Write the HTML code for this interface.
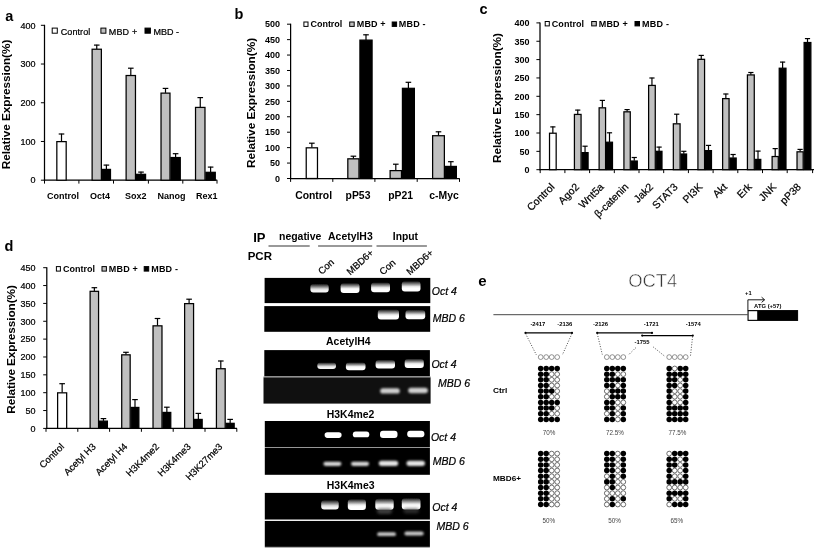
<!DOCTYPE html>
<html lang="en"><head><meta charset="utf-8"><title>Figure</title>
<style>
html,body{margin:0;padding:0;background:#fff;}
body{width:814px;height:548px;overflow:hidden;}
svg{display:block;font-family:"Liberation Sans", sans-serif;}
svg text{font-family:"Liberation Sans", sans-serif;}
</style></head><body>
<svg width="814" height="548" viewBox="0 0 814 548">
<defs>
<filter id="b1" x="-20%" y="-40%" width="140%" height="180%"><feGaussianBlur stdDeviation="0.8"/></filter>
<linearGradient id="gb" x1="0" y1="0" x2="0" y2="1"><stop offset="0" stop-color="#1a1a1a"/><stop offset="0.28" stop-color="#8a8a8a"/><stop offset="0.52" stop-color="#ececec"/><stop offset="0.68" stop-color="#fff"/><stop offset="1" stop-color="#fff"/></linearGradient>
<linearGradient id="gb2" x1="0" y1="0" x2="0" y2="1"><stop offset="0" stop-color="#151515"/><stop offset="0.3" stop-color="#777"/><stop offset="0.6" stop-color="#ddd"/><stop offset="0.8" stop-color="#f4f4f4"/><stop offset="1" stop-color="#f4f4f4"/></linearGradient>
<filter id="b0" x="-20%" y="-40%" width="140%" height="180%"><feGaussianBlur stdDeviation="0.6"/></filter>
<filter id="b2" x="-20%" y="-50%" width="140%" height="200%"><feGaussianBlur stdDeviation="1.4"/></filter>
</defs>
<rect width="814" height="548" fill="#fff"/>
<g id="pa">
<text x="5.20" y="21.00" font-size="14.5" font-weight="700" >a</text>
<line x1="44.50" y1="24.80" x2="44.50" y2="180.80" stroke="#000" stroke-width="1.25" />
<line x1="43.90" y1="180.20" x2="217.20" y2="180.20" stroke="#000" stroke-width="1.25" />
<line x1="40.90" y1="180.20" x2="44.50" y2="180.20" stroke="#000" stroke-width="1.0" />
<text x="35.60" y="183.45" font-size="9" text-anchor="end" stroke="#000" stroke-width="0.22" >0</text>
<line x1="40.90" y1="141.47" x2="44.50" y2="141.47" stroke="#000" stroke-width="1.0" />
<text x="35.60" y="144.72" font-size="9" text-anchor="end" stroke="#000" stroke-width="0.22" >100</text>
<line x1="40.90" y1="102.75" x2="44.50" y2="102.75" stroke="#000" stroke-width="1.0" />
<text x="35.60" y="106.00" font-size="9" text-anchor="end" stroke="#000" stroke-width="0.22" >200</text>
<line x1="40.90" y1="64.03" x2="44.50" y2="64.03" stroke="#000" stroke-width="1.0" />
<text x="35.60" y="67.28" font-size="9" text-anchor="end" stroke="#000" stroke-width="0.22" >300</text>
<line x1="40.90" y1="25.30" x2="44.50" y2="25.30" stroke="#000" stroke-width="1.0" />
<text x="35.60" y="28.55" font-size="9" text-anchor="end" stroke="#000" stroke-width="0.22" >400</text>
<line x1="44.50" y1="180.20" x2="44.50" y2="183.60" stroke="#000" stroke-width="1.0" />
<line x1="78.90" y1="180.20" x2="78.90" y2="183.60" stroke="#000" stroke-width="1.0" />
<line x1="113.50" y1="180.20" x2="113.50" y2="183.60" stroke="#000" stroke-width="1.0" />
<line x1="148.40" y1="180.20" x2="148.40" y2="183.60" stroke="#000" stroke-width="1.0" />
<line x1="182.80" y1="180.20" x2="182.80" y2="183.60" stroke="#000" stroke-width="1.0" />
<line x1="217.00" y1="180.20" x2="217.00" y2="183.60" stroke="#000" stroke-width="1.0" />
<text transform="translate(10.30 104.40) rotate(-90)" font-size="11.8" font-weight="700" text-anchor="middle" textLength="129.6" lengthAdjust="spacing" >Relative Expression(%)</text>
<rect x="52.20" y="28.10" width="5.10" height="5.10" fill="#fff" stroke="#000" stroke-width="1"/>
<text x="60.80" y="35.20" font-size="9" stroke="#000" stroke-width="0.22" textLength="29.4" lengthAdjust="spacing" >Control</text>
<rect x="100.90" y="28.10" width="5.00" height="5.10" fill="#c0c0c0" stroke="#000" stroke-width="1"/>
<text x="108.70" y="35.20" font-size="9" stroke="#000" stroke-width="0.22" textLength="28.6" lengthAdjust="spacing" >MBD +</text>
<rect x="145.00" y="28.10" width="5.40" height="5.10" fill="#000" stroke="#000" stroke-width="1"/>
<text x="153.40" y="35.20" font-size="9" stroke="#000" stroke-width="0.22" textLength="25.5" lengthAdjust="spacing" >MBD -</text>
<rect x="56.83" y="141.62" width="9.35" height="38.57" fill="#fff" stroke="#000" stroke-width="1.25"/>
<line x1="61.50" y1="141.40" x2="61.50" y2="133.70" stroke="#000" stroke-width="1.2" />
<line x1="58.70" y1="134.00" x2="64.30" y2="134.00" stroke="#000" stroke-width="1.2" />
<rect x="92.12" y="49.23" width="9.25" height="130.97" fill="#c0c0c0" stroke="#000" stroke-width="1.25"/>
<line x1="96.75" y1="49.00" x2="96.75" y2="44.80" stroke="#000" stroke-width="1.2" />
<line x1="93.95" y1="45.10" x2="99.55" y2="45.10" stroke="#000" stroke-width="1.2" />
<rect x="102.33" y="169.42" width="8.15" height="10.78" fill="#000" stroke="#000" stroke-width="1.25"/>
<line x1="106.40" y1="169.20" x2="106.40" y2="164.80" stroke="#000" stroke-width="1.2" />
<line x1="103.60" y1="165.10" x2="109.20" y2="165.10" stroke="#000" stroke-width="1.2" />
<rect x="126.12" y="75.52" width="9.35" height="104.67" fill="#c0c0c0" stroke="#000" stroke-width="1.25"/>
<line x1="130.80" y1="75.30" x2="130.80" y2="67.90" stroke="#000" stroke-width="1.2" />
<line x1="128.00" y1="68.20" x2="133.60" y2="68.20" stroke="#000" stroke-width="1.2" />
<rect x="136.42" y="174.32" width="9.15" height="5.87" fill="#000" stroke="#000" stroke-width="1.25"/>
<line x1="141.00" y1="174.10" x2="141.00" y2="171.80" stroke="#000" stroke-width="1.2" />
<line x1="138.20" y1="172.10" x2="143.80" y2="172.10" stroke="#000" stroke-width="1.2" />
<rect x="161.03" y="93.12" width="8.95" height="87.07" fill="#c0c0c0" stroke="#000" stroke-width="1.25"/>
<line x1="165.50" y1="92.90" x2="165.50" y2="88.10" stroke="#000" stroke-width="1.2" />
<line x1="162.70" y1="88.40" x2="168.30" y2="88.40" stroke="#000" stroke-width="1.2" />
<rect x="170.92" y="157.53" width="9.35" height="22.67" fill="#000" stroke="#000" stroke-width="1.25"/>
<line x1="175.60" y1="157.30" x2="175.60" y2="153.40" stroke="#000" stroke-width="1.2" />
<line x1="172.80" y1="153.70" x2="178.40" y2="153.70" stroke="#000" stroke-width="1.2" />
<rect x="195.53" y="107.42" width="9.45" height="72.77" fill="#c0c0c0" stroke="#000" stroke-width="1.25"/>
<line x1="200.25" y1="107.20" x2="200.25" y2="97.30" stroke="#000" stroke-width="1.2" />
<line x1="197.45" y1="97.60" x2="203.05" y2="97.60" stroke="#000" stroke-width="1.2" />
<rect x="205.92" y="172.32" width="9.35" height="7.87" fill="#000" stroke="#000" stroke-width="1.25"/>
<line x1="210.60" y1="172.10" x2="210.60" y2="166.80" stroke="#000" stroke-width="1.2" />
<line x1="207.80" y1="167.10" x2="213.40" y2="167.10" stroke="#000" stroke-width="1.2" />
<text x="63.00" y="198.60" font-size="9" font-weight="700" text-anchor="middle" >Control</text>
<text x="100.10" y="198.60" font-size="9" font-weight="700" text-anchor="middle" >Oct4</text>
<text x="135.70" y="198.60" font-size="9" font-weight="700" text-anchor="middle" >Sox2</text>
<text x="171.50" y="198.60" font-size="9" font-weight="700" text-anchor="middle" >Nanog</text>
<text x="206.80" y="198.60" font-size="9" font-weight="700" text-anchor="middle" >Rex1</text>
</g>
<g id="pb">
<text x="234.50" y="19.30" font-size="14.5" font-weight="700" >b</text>
<line x1="290.60" y1="23.70" x2="290.60" y2="179.10" stroke="#000" stroke-width="1.25" />
<line x1="290.00" y1="178.50" x2="459.70" y2="178.50" stroke="#000" stroke-width="1.25" />
<line x1="287.00" y1="178.50" x2="290.60" y2="178.50" stroke="#000" stroke-width="1.0" />
<text x="280.00" y="181.75" font-size="9" font-weight="700" text-anchor="end" >0</text>
<line x1="287.00" y1="163.07" x2="290.60" y2="163.07" stroke="#000" stroke-width="1.0" />
<text x="280.00" y="166.32" font-size="9" font-weight="700" text-anchor="end" >50</text>
<line x1="287.00" y1="147.64" x2="290.60" y2="147.64" stroke="#000" stroke-width="1.0" />
<text x="280.00" y="150.89" font-size="9" font-weight="700" text-anchor="end" >100</text>
<line x1="287.00" y1="132.21" x2="290.60" y2="132.21" stroke="#000" stroke-width="1.0" />
<text x="280.00" y="135.46" font-size="9" font-weight="700" text-anchor="end" >150</text>
<line x1="287.00" y1="116.78" x2="290.60" y2="116.78" stroke="#000" stroke-width="1.0" />
<text x="280.00" y="120.03" font-size="9" font-weight="700" text-anchor="end" >200</text>
<line x1="287.00" y1="101.35" x2="290.60" y2="101.35" stroke="#000" stroke-width="1.0" />
<text x="280.00" y="104.60" font-size="9" font-weight="700" text-anchor="end" >250</text>
<line x1="287.00" y1="85.92" x2="290.60" y2="85.92" stroke="#000" stroke-width="1.0" />
<text x="280.00" y="89.17" font-size="9" font-weight="700" text-anchor="end" >300</text>
<line x1="287.00" y1="70.49" x2="290.60" y2="70.49" stroke="#000" stroke-width="1.0" />
<text x="280.00" y="73.74" font-size="9" font-weight="700" text-anchor="end" >350</text>
<line x1="287.00" y1="55.06" x2="290.60" y2="55.06" stroke="#000" stroke-width="1.0" />
<text x="280.00" y="58.31" font-size="9" font-weight="700" text-anchor="end" >400</text>
<line x1="287.00" y1="39.63" x2="290.60" y2="39.63" stroke="#000" stroke-width="1.0" />
<text x="280.00" y="42.88" font-size="9" font-weight="700" text-anchor="end" >450</text>
<line x1="287.00" y1="24.20" x2="290.60" y2="24.20" stroke="#000" stroke-width="1.0" />
<text x="280.00" y="27.45" font-size="9" font-weight="700" text-anchor="end" >500</text>
<line x1="290.60" y1="178.50" x2="290.60" y2="181.90" stroke="#000" stroke-width="1.0" />
<line x1="332.80" y1="178.50" x2="332.80" y2="181.90" stroke="#000" stroke-width="1.0" />
<line x1="374.90" y1="178.50" x2="374.90" y2="181.90" stroke="#000" stroke-width="1.0" />
<line x1="417.20" y1="178.50" x2="417.20" y2="181.90" stroke="#000" stroke-width="1.0" />
<line x1="459.50" y1="178.50" x2="459.50" y2="181.90" stroke="#000" stroke-width="1.0" />
<text transform="translate(255.10 102.90) rotate(-90)" font-size="11.8" font-weight="700" text-anchor="middle" textLength="130" lengthAdjust="spacing" >Relative Expression(%)</text>
<rect x="303.90" y="22.00" width="4.10" height="4.40" fill="#fff" stroke="#000" stroke-width="1"/>
<text x="310.60" y="27.20" font-size="9" font-weight="700" textLength="31.6" lengthAdjust="spacing" >Control</text>
<rect x="349.70" y="22.00" width="4.50" height="4.40" fill="#c0c0c0" stroke="#000" stroke-width="1"/>
<text x="356.80" y="27.20" font-size="9" font-weight="700" textLength="28.6" lengthAdjust="spacing" >MBD +</text>
<rect x="392.20" y="22.00" width="4.40" height="4.40" fill="#000" stroke="#000" stroke-width="1"/>
<text x="398.80" y="27.20" font-size="9" font-weight="700" textLength="26.8" lengthAdjust="spacing" >MBD -</text>
<rect x="306.23" y="147.82" width="11.25" height="30.68" fill="#fff" stroke="#000" stroke-width="1.25"/>
<line x1="311.85" y1="147.60" x2="311.85" y2="142.90" stroke="#000" stroke-width="1.2" />
<line x1="309.05" y1="143.20" x2="314.65" y2="143.20" stroke="#000" stroke-width="1.2" />
<rect x="347.82" y="158.82" width="11.15" height="19.68" fill="#c0c0c0" stroke="#000" stroke-width="1.25"/>
<line x1="353.40" y1="158.60" x2="353.40" y2="155.90" stroke="#000" stroke-width="1.2" />
<line x1="350.60" y1="156.20" x2="356.20" y2="156.20" stroke="#000" stroke-width="1.2" />
<rect x="359.93" y="40.12" width="12.15" height="138.38" fill="#000" stroke="#000" stroke-width="1.25"/>
<line x1="366.00" y1="39.90" x2="366.00" y2="34.50" stroke="#000" stroke-width="1.2" />
<line x1="363.20" y1="34.80" x2="368.80" y2="34.80" stroke="#000" stroke-width="1.2" />
<rect x="390.12" y="170.62" width="11.35" height="7.87" fill="#c0c0c0" stroke="#000" stroke-width="1.25"/>
<line x1="395.80" y1="170.40" x2="395.80" y2="163.90" stroke="#000" stroke-width="1.2" />
<line x1="393.00" y1="164.20" x2="398.60" y2="164.20" stroke="#000" stroke-width="1.2" />
<rect x="402.43" y="88.32" width="11.95" height="90.18" fill="#000" stroke="#000" stroke-width="1.25"/>
<line x1="408.40" y1="88.10" x2="408.40" y2="82.00" stroke="#000" stroke-width="1.2" />
<line x1="405.60" y1="82.30" x2="411.20" y2="82.30" stroke="#000" stroke-width="1.2" />
<rect x="432.62" y="135.72" width="11.75" height="42.77" fill="#c0c0c0" stroke="#000" stroke-width="1.25"/>
<line x1="438.50" y1="135.50" x2="438.50" y2="131.50" stroke="#000" stroke-width="1.2" />
<line x1="435.70" y1="131.80" x2="441.30" y2="131.80" stroke="#000" stroke-width="1.2" />
<rect x="445.32" y="166.42" width="11.05" height="12.08" fill="#000" stroke="#000" stroke-width="1.25"/>
<line x1="450.85" y1="166.20" x2="450.85" y2="161.40" stroke="#000" stroke-width="1.2" />
<line x1="448.05" y1="161.70" x2="453.65" y2="161.70" stroke="#000" stroke-width="1.2" />
<text x="313.60" y="198.60" font-size="10.4" font-weight="700" text-anchor="middle" >Control</text>
<text x="358.00" y="198.60" font-size="10.4" font-weight="700" text-anchor="middle" >pP53</text>
<text x="400.60" y="198.60" font-size="10.4" font-weight="700" text-anchor="middle" >pP21</text>
<text x="444.00" y="198.60" font-size="10.4" font-weight="700" text-anchor="middle" >c-Myc</text>
</g>
<g id="pc">
<text x="479.50" y="14.30" font-size="14.5" font-weight="700" >c</text>
<line x1="540.00" y1="22.40" x2="540.00" y2="170.30" stroke="#000" stroke-width="1.25" />
<line x1="539.40" y1="169.70" x2="814.00" y2="169.70" stroke="#000" stroke-width="1.25" />
<line x1="536.40" y1="169.70" x2="540.00" y2="169.70" stroke="#000" stroke-width="1.0" />
<text x="529.60" y="172.95" font-size="9" font-weight="700" text-anchor="end" >0</text>
<line x1="536.40" y1="151.35" x2="540.00" y2="151.35" stroke="#000" stroke-width="1.0" />
<text x="529.60" y="154.60" font-size="9" font-weight="700" text-anchor="end" >50</text>
<line x1="536.40" y1="133.00" x2="540.00" y2="133.00" stroke="#000" stroke-width="1.0" />
<text x="529.60" y="136.25" font-size="9" font-weight="700" text-anchor="end" >100</text>
<line x1="536.40" y1="114.65" x2="540.00" y2="114.65" stroke="#000" stroke-width="1.0" />
<text x="529.60" y="117.90" font-size="9" font-weight="700" text-anchor="end" >150</text>
<line x1="536.40" y1="96.30" x2="540.00" y2="96.30" stroke="#000" stroke-width="1.0" />
<text x="529.60" y="99.55" font-size="9" font-weight="700" text-anchor="end" >200</text>
<line x1="536.40" y1="77.95" x2="540.00" y2="77.95" stroke="#000" stroke-width="1.0" />
<text x="529.60" y="81.20" font-size="9" font-weight="700" text-anchor="end" >250</text>
<line x1="536.40" y1="59.60" x2="540.00" y2="59.60" stroke="#000" stroke-width="1.0" />
<text x="529.60" y="62.85" font-size="9" font-weight="700" text-anchor="end" >300</text>
<line x1="536.40" y1="41.25" x2="540.00" y2="41.25" stroke="#000" stroke-width="1.0" />
<text x="529.60" y="44.50" font-size="9" font-weight="700" text-anchor="end" >350</text>
<line x1="536.40" y1="22.90" x2="540.00" y2="22.90" stroke="#000" stroke-width="1.0" />
<text x="529.60" y="26.15" font-size="9" font-weight="700" text-anchor="end" >400</text>
<line x1="540.20" y1="169.70" x2="540.20" y2="173.10" stroke="#000" stroke-width="1.0" />
<line x1="564.90" y1="169.70" x2="564.90" y2="173.10" stroke="#000" stroke-width="1.0" />
<line x1="589.60" y1="169.70" x2="589.60" y2="173.10" stroke="#000" stroke-width="1.0" />
<line x1="614.30" y1="169.70" x2="614.30" y2="173.10" stroke="#000" stroke-width="1.0" />
<line x1="639.00" y1="169.70" x2="639.00" y2="173.10" stroke="#000" stroke-width="1.0" />
<line x1="663.70" y1="169.70" x2="663.70" y2="173.10" stroke="#000" stroke-width="1.0" />
<line x1="688.40" y1="169.70" x2="688.40" y2="173.10" stroke="#000" stroke-width="1.0" />
<line x1="713.10" y1="169.70" x2="713.10" y2="173.10" stroke="#000" stroke-width="1.0" />
<line x1="737.80" y1="169.70" x2="737.80" y2="173.10" stroke="#000" stroke-width="1.0" />
<line x1="762.50" y1="169.70" x2="762.50" y2="173.10" stroke="#000" stroke-width="1.0" />
<line x1="787.20" y1="169.70" x2="787.20" y2="173.10" stroke="#000" stroke-width="1.0" />
<line x1="812.60" y1="169.70" x2="812.60" y2="173.10" stroke="#000" stroke-width="1.0" />
<text transform="translate(501.00 98.00) rotate(-90)" font-size="11.8" font-weight="700" text-anchor="middle" textLength="130.1" lengthAdjust="spacing" >Relative Expression(%)</text>
<rect x="545.20" y="21.50" width="4.10" height="4.40" fill="#fff" stroke="#000" stroke-width="1"/>
<text x="551.80" y="26.80" font-size="9" font-weight="700" textLength="32.3" lengthAdjust="spacing" >Control</text>
<rect x="591.70" y="21.50" width="4.60" height="4.40" fill="#c0c0c0" stroke="#000" stroke-width="1"/>
<text x="598.70" y="26.80" font-size="9" font-weight="700" textLength="29" lengthAdjust="spacing" >MBD +</text>
<rect x="635.00" y="21.50" width="4.50" height="4.40" fill="#000" stroke="#000" stroke-width="1"/>
<text x="642.00" y="26.80" font-size="9" font-weight="700" textLength="26.9" lengthAdjust="spacing" >MBD -</text>
<rect x="549.52" y="133.22" width="6.65" height="36.47" fill="#fff" stroke="#000" stroke-width="1.25"/>
<line x1="552.85" y1="133.00" x2="552.85" y2="126.60" stroke="#000" stroke-width="1.2" />
<line x1="550.25" y1="126.90" x2="555.45" y2="126.90" stroke="#000" stroke-width="1.2" />
<rect x="574.42" y="114.42" width="6.65" height="55.27" fill="#c0c0c0" stroke="#000" stroke-width="1.25"/>
<line x1="577.75" y1="114.20" x2="577.75" y2="109.80" stroke="#000" stroke-width="1.2" />
<line x1="575.15" y1="110.10" x2="580.35" y2="110.10" stroke="#000" stroke-width="1.2" />
<rect x="582.03" y="152.62" width="6.05" height="17.07" fill="#000" stroke="#000" stroke-width="1.25"/>
<line x1="585.05" y1="152.40" x2="585.05" y2="145.90" stroke="#000" stroke-width="1.2" />
<line x1="582.45" y1="146.20" x2="587.65" y2="146.20" stroke="#000" stroke-width="1.2" />
<rect x="599.12" y="107.82" width="6.45" height="61.87" fill="#c0c0c0" stroke="#000" stroke-width="1.25"/>
<line x1="602.35" y1="107.60" x2="602.35" y2="100.10" stroke="#000" stroke-width="1.2" />
<line x1="599.75" y1="100.40" x2="604.95" y2="100.40" stroke="#000" stroke-width="1.2" />
<rect x="606.53" y="142.22" width="5.95" height="27.47" fill="#000" stroke="#000" stroke-width="1.25"/>
<line x1="609.50" y1="142.00" x2="609.50" y2="132.50" stroke="#000" stroke-width="1.2" />
<line x1="606.90" y1="132.80" x2="612.10" y2="132.80" stroke="#000" stroke-width="1.2" />
<rect x="623.92" y="111.82" width="6.35" height="57.87" fill="#c0c0c0" stroke="#000" stroke-width="1.25"/>
<line x1="627.10" y1="111.60" x2="627.10" y2="109.30" stroke="#000" stroke-width="1.2" />
<line x1="624.50" y1="109.60" x2="629.70" y2="109.60" stroke="#000" stroke-width="1.2" />
<rect x="631.23" y="161.03" width="6.05" height="8.67" fill="#000" stroke="#000" stroke-width="1.25"/>
<line x1="634.25" y1="160.80" x2="634.25" y2="157.20" stroke="#000" stroke-width="1.2" />
<line x1="631.65" y1="157.50" x2="636.85" y2="157.50" stroke="#000" stroke-width="1.2" />
<rect x="648.62" y="85.42" width="6.65" height="84.27" fill="#c0c0c0" stroke="#000" stroke-width="1.25"/>
<line x1="651.95" y1="85.20" x2="651.95" y2="77.70" stroke="#000" stroke-width="1.2" />
<line x1="649.35" y1="78.00" x2="654.55" y2="78.00" stroke="#000" stroke-width="1.2" />
<rect x="656.23" y="151.32" width="5.75" height="18.37" fill="#000" stroke="#000" stroke-width="1.25"/>
<line x1="659.10" y1="151.10" x2="659.10" y2="146.80" stroke="#000" stroke-width="1.2" />
<line x1="656.50" y1="147.10" x2="661.70" y2="147.10" stroke="#000" stroke-width="1.2" />
<rect x="673.33" y="123.82" width="6.75" height="45.87" fill="#c0c0c0" stroke="#000" stroke-width="1.25"/>
<line x1="676.70" y1="123.60" x2="676.70" y2="113.90" stroke="#000" stroke-width="1.2" />
<line x1="674.10" y1="114.20" x2="679.30" y2="114.20" stroke="#000" stroke-width="1.2" />
<rect x="681.03" y="154.03" width="5.55" height="15.67" fill="#000" stroke="#000" stroke-width="1.25"/>
<line x1="683.80" y1="153.80" x2="683.80" y2="151.00" stroke="#000" stroke-width="1.2" />
<line x1="681.20" y1="151.30" x2="686.40" y2="151.30" stroke="#000" stroke-width="1.2" />
<rect x="697.92" y="59.33" width="6.65" height="110.38" fill="#c0c0c0" stroke="#000" stroke-width="1.25"/>
<line x1="701.25" y1="59.10" x2="701.25" y2="55.10" stroke="#000" stroke-width="1.2" />
<line x1="698.65" y1="55.40" x2="703.85" y2="55.40" stroke="#000" stroke-width="1.2" />
<rect x="705.53" y="150.62" width="5.95" height="19.07" fill="#000" stroke="#000" stroke-width="1.25"/>
<line x1="708.50" y1="150.40" x2="708.50" y2="145.10" stroke="#000" stroke-width="1.2" />
<line x1="705.90" y1="145.40" x2="711.10" y2="145.40" stroke="#000" stroke-width="1.2" />
<rect x="722.62" y="98.62" width="6.45" height="71.07" fill="#c0c0c0" stroke="#000" stroke-width="1.25"/>
<line x1="725.85" y1="98.40" x2="725.85" y2="93.70" stroke="#000" stroke-width="1.2" />
<line x1="723.25" y1="94.00" x2="728.45" y2="94.00" stroke="#000" stroke-width="1.2" />
<rect x="730.03" y="158.03" width="6.15" height="11.67" fill="#000" stroke="#000" stroke-width="1.25"/>
<line x1="733.10" y1="157.80" x2="733.10" y2="154.20" stroke="#000" stroke-width="1.2" />
<line x1="730.50" y1="154.50" x2="735.70" y2="154.50" stroke="#000" stroke-width="1.2" />
<rect x="747.42" y="74.92" width="6.85" height="94.77" fill="#c0c0c0" stroke="#000" stroke-width="1.25"/>
<line x1="750.85" y1="74.70" x2="750.85" y2="72.20" stroke="#000" stroke-width="1.2" />
<line x1="748.25" y1="72.50" x2="753.45" y2="72.50" stroke="#000" stroke-width="1.2" />
<rect x="755.23" y="159.42" width="5.55" height="10.28" fill="#000" stroke="#000" stroke-width="1.25"/>
<line x1="758.00" y1="159.20" x2="758.00" y2="150.80" stroke="#000" stroke-width="1.2" />
<line x1="755.40" y1="151.10" x2="760.60" y2="151.10" stroke="#000" stroke-width="1.2" />
<rect x="772.12" y="156.53" width="6.15" height="13.17" fill="#c0c0c0" stroke="#000" stroke-width="1.25"/>
<line x1="775.20" y1="156.30" x2="775.20" y2="148.30" stroke="#000" stroke-width="1.2" />
<line x1="772.60" y1="148.60" x2="777.80" y2="148.60" stroke="#000" stroke-width="1.2" />
<rect x="779.23" y="68.22" width="6.75" height="101.47" fill="#000" stroke="#000" stroke-width="1.25"/>
<line x1="782.60" y1="68.00" x2="782.60" y2="61.80" stroke="#000" stroke-width="1.2" />
<line x1="780.00" y1="62.10" x2="785.20" y2="62.10" stroke="#000" stroke-width="1.2" />
<rect x="797.02" y="151.82" width="6.15" height="17.87" fill="#c0c0c0" stroke="#000" stroke-width="1.25"/>
<line x1="800.10" y1="151.60" x2="800.10" y2="149.10" stroke="#000" stroke-width="1.2" />
<line x1="797.50" y1="149.40" x2="802.70" y2="149.40" stroke="#000" stroke-width="1.2" />
<rect x="804.12" y="42.52" width="6.75" height="127.17" fill="#000" stroke="#000" stroke-width="1.25"/>
<line x1="807.50" y1="42.30" x2="807.50" y2="38.30" stroke="#000" stroke-width="1.2" />
<line x1="804.90" y1="38.60" x2="810.10" y2="38.60" stroke="#000" stroke-width="1.2" />
<text transform="translate(555.20 187.60) rotate(-45)" font-size="10.5" text-anchor="end" stroke="#000" stroke-width="0.22" >Control</text>
<text transform="translate(579.85 187.60) rotate(-45)" font-size="10.5" text-anchor="end" stroke="#000" stroke-width="0.22" >Ago2</text>
<text transform="translate(604.50 187.60) rotate(-45)" font-size="10.5" text-anchor="end" stroke="#000" stroke-width="0.22" >Wnt5a</text>
<text transform="translate(629.15 187.60) rotate(-45)" font-size="10.5" text-anchor="end" stroke="#000" stroke-width="0.22" >β-catenin</text>
<text transform="translate(653.80 187.60) rotate(-45)" font-size="10.5" text-anchor="end" stroke="#000" stroke-width="0.22" >Jak2</text>
<text transform="translate(678.45 187.60) rotate(-45)" font-size="10.5" text-anchor="end" stroke="#000" stroke-width="0.22" >STAT3</text>
<text transform="translate(703.10 187.60) rotate(-45)" font-size="10.5" text-anchor="end" stroke="#000" stroke-width="0.22" >PI3K</text>
<text transform="translate(727.75 187.60) rotate(-45)" font-size="10.5" text-anchor="end" stroke="#000" stroke-width="0.22" >Akt</text>
<text transform="translate(752.40 187.60) rotate(-45)" font-size="10.5" text-anchor="end" stroke="#000" stroke-width="0.22" >Erk</text>
<text transform="translate(777.05 187.60) rotate(-45)" font-size="10.5" text-anchor="end" stroke="#000" stroke-width="0.22" >JNK</text>
<text transform="translate(801.70 187.60) rotate(-45)" font-size="10.5" text-anchor="end" stroke="#000" stroke-width="0.22" >pP38</text>
</g>
<g id="pd">
<text x="4.50" y="250.80" font-size="14.5" font-weight="700" >d</text>
<line x1="46.80" y1="267.20" x2="46.80" y2="429.00" stroke="#000" stroke-width="1.25" />
<line x1="46.20" y1="428.40" x2="237.00" y2="428.40" stroke="#000" stroke-width="1.25" />
<line x1="43.20" y1="428.40" x2="46.80" y2="428.40" stroke="#000" stroke-width="1.0" />
<text x="35.60" y="431.65" font-size="9" text-anchor="end" stroke="#000" stroke-width="0.22" >0</text>
<line x1="43.20" y1="410.54" x2="46.80" y2="410.54" stroke="#000" stroke-width="1.0" />
<text x="35.60" y="413.79" font-size="9" text-anchor="end" stroke="#000" stroke-width="0.22" >50</text>
<line x1="43.20" y1="392.69" x2="46.80" y2="392.69" stroke="#000" stroke-width="1.0" />
<text x="35.60" y="395.94" font-size="9" text-anchor="end" stroke="#000" stroke-width="0.22" >100</text>
<line x1="43.20" y1="374.83" x2="46.80" y2="374.83" stroke="#000" stroke-width="1.0" />
<text x="35.60" y="378.08" font-size="9" text-anchor="end" stroke="#000" stroke-width="0.22" >150</text>
<line x1="43.20" y1="356.98" x2="46.80" y2="356.98" stroke="#000" stroke-width="1.0" />
<text x="35.60" y="360.23" font-size="9" text-anchor="end" stroke="#000" stroke-width="0.22" >200</text>
<line x1="43.20" y1="339.12" x2="46.80" y2="339.12" stroke="#000" stroke-width="1.0" />
<text x="35.60" y="342.37" font-size="9" text-anchor="end" stroke="#000" stroke-width="0.22" >250</text>
<line x1="43.20" y1="321.27" x2="46.80" y2="321.27" stroke="#000" stroke-width="1.0" />
<text x="35.60" y="324.52" font-size="9" text-anchor="end" stroke="#000" stroke-width="0.22" >300</text>
<line x1="43.20" y1="303.41" x2="46.80" y2="303.41" stroke="#000" stroke-width="1.0" />
<text x="35.60" y="306.66" font-size="9" text-anchor="end" stroke="#000" stroke-width="0.22" >350</text>
<line x1="43.20" y1="285.56" x2="46.80" y2="285.56" stroke="#000" stroke-width="1.0" />
<text x="35.60" y="288.81" font-size="9" text-anchor="end" stroke="#000" stroke-width="0.22" >400</text>
<line x1="43.20" y1="267.70" x2="46.80" y2="267.70" stroke="#000" stroke-width="1.0" />
<text x="35.60" y="270.95" font-size="9" text-anchor="end" stroke="#000" stroke-width="0.22" >450</text>
<line x1="46.00" y1="428.40" x2="46.00" y2="431.80" stroke="#000" stroke-width="1.0" />
<line x1="77.80" y1="428.40" x2="77.80" y2="431.80" stroke="#000" stroke-width="1.0" />
<line x1="109.60" y1="428.40" x2="109.60" y2="431.80" stroke="#000" stroke-width="1.0" />
<line x1="141.40" y1="428.40" x2="141.40" y2="431.80" stroke="#000" stroke-width="1.0" />
<line x1="173.20" y1="428.40" x2="173.20" y2="431.80" stroke="#000" stroke-width="1.0" />
<line x1="205.00" y1="428.40" x2="205.00" y2="431.80" stroke="#000" stroke-width="1.0" />
<line x1="236.80" y1="428.40" x2="236.80" y2="431.80" stroke="#000" stroke-width="1.0" />
<text transform="translate(15.10 349.40) rotate(-90)" font-size="11.8" font-weight="700" text-anchor="middle" textLength="128.5" lengthAdjust="spacing" >Relative Expression(%)</text>
<rect x="56.40" y="266.60" width="4.00" height="4.50" fill="#fff" stroke="#000" stroke-width="1"/>
<text x="63.00" y="271.90" font-size="9" font-weight="700" textLength="31.9" lengthAdjust="spacing" >Control</text>
<rect x="102.00" y="266.60" width="4.40" height="4.50" fill="#c0c0c0" stroke="#000" stroke-width="1"/>
<text x="108.80" y="271.90" font-size="9" font-weight="700" textLength="29" lengthAdjust="spacing" >MBD +</text>
<rect x="144.20" y="266.60" width="4.50" height="4.50" fill="#000" stroke="#000" stroke-width="1"/>
<text x="151.20" y="271.90" font-size="9" font-weight="700" textLength="26.8" lengthAdjust="spacing" >MBD -</text>
<rect x="57.62" y="392.83" width="9.05" height="35.57" fill="#fff" stroke="#000" stroke-width="1.25"/>
<line x1="62.15" y1="392.60" x2="62.15" y2="383.40" stroke="#000" stroke-width="1.2" />
<line x1="59.35" y1="383.70" x2="64.95" y2="383.70" stroke="#000" stroke-width="1.2" />
<rect x="90.12" y="291.33" width="8.45" height="137.07" fill="#c0c0c0" stroke="#000" stroke-width="1.25"/>
<line x1="94.35" y1="291.10" x2="94.35" y2="287.40" stroke="#000" stroke-width="1.2" />
<line x1="91.55" y1="287.70" x2="97.15" y2="287.70" stroke="#000" stroke-width="1.2" />
<rect x="99.53" y="421.12" width="7.85" height="7.28" fill="#000" stroke="#000" stroke-width="1.25"/>
<line x1="103.45" y1="420.90" x2="103.45" y2="418.30" stroke="#000" stroke-width="1.2" />
<line x1="100.65" y1="418.60" x2="106.25" y2="418.60" stroke="#000" stroke-width="1.2" />
<rect x="121.72" y="354.83" width="8.45" height="73.57" fill="#c0c0c0" stroke="#000" stroke-width="1.25"/>
<line x1="125.95" y1="354.60" x2="125.95" y2="352.00" stroke="#000" stroke-width="1.2" />
<line x1="123.15" y1="352.30" x2="128.75" y2="352.30" stroke="#000" stroke-width="1.2" />
<rect x="131.12" y="407.43" width="7.75" height="20.97" fill="#000" stroke="#000" stroke-width="1.25"/>
<line x1="135.00" y1="407.20" x2="135.00" y2="399.30" stroke="#000" stroke-width="1.2" />
<line x1="132.20" y1="399.60" x2="137.80" y2="399.60" stroke="#000" stroke-width="1.2" />
<rect x="153.03" y="325.83" width="8.95" height="102.57" fill="#c0c0c0" stroke="#000" stroke-width="1.25"/>
<line x1="157.50" y1="325.60" x2="157.50" y2="318.20" stroke="#000" stroke-width="1.2" />
<line x1="154.70" y1="318.50" x2="160.30" y2="318.50" stroke="#000" stroke-width="1.2" />
<rect x="162.92" y="412.43" width="7.85" height="15.97" fill="#000" stroke="#000" stroke-width="1.25"/>
<line x1="166.85" y1="412.20" x2="166.85" y2="406.90" stroke="#000" stroke-width="1.2" />
<line x1="164.05" y1="407.20" x2="169.65" y2="407.20" stroke="#000" stroke-width="1.2" />
<rect x="184.62" y="303.62" width="8.95" height="124.78" fill="#c0c0c0" stroke="#000" stroke-width="1.25"/>
<line x1="189.10" y1="303.40" x2="189.10" y2="298.90" stroke="#000" stroke-width="1.2" />
<line x1="186.30" y1="299.20" x2="191.90" y2="299.20" stroke="#000" stroke-width="1.2" />
<rect x="194.52" y="419.43" width="7.65" height="8.97" fill="#000" stroke="#000" stroke-width="1.25"/>
<line x1="198.35" y1="419.20" x2="198.35" y2="413.10" stroke="#000" stroke-width="1.2" />
<line x1="195.55" y1="413.40" x2="201.15" y2="413.40" stroke="#000" stroke-width="1.2" />
<rect x="216.43" y="368.73" width="8.75" height="59.67" fill="#c0c0c0" stroke="#000" stroke-width="1.25"/>
<line x1="220.80" y1="368.50" x2="220.80" y2="360.70" stroke="#000" stroke-width="1.2" />
<line x1="218.00" y1="361.00" x2="223.60" y2="361.00" stroke="#000" stroke-width="1.2" />
<rect x="226.12" y="423.33" width="8.05" height="5.07" fill="#000" stroke="#000" stroke-width="1.25"/>
<line x1="230.15" y1="423.10" x2="230.15" y2="419.10" stroke="#000" stroke-width="1.2" />
<line x1="227.35" y1="419.40" x2="232.95" y2="419.40" stroke="#000" stroke-width="1.2" />
<text transform="translate(64.80 447.20) rotate(-45)" font-size="9.5" text-anchor="end" stroke="#000" stroke-width="0.22" >Control</text>
<text transform="translate(96.45 447.20) rotate(-45)" font-size="9.5" text-anchor="end" stroke="#000" stroke-width="0.22" >Acetyl H3</text>
<text transform="translate(128.10 447.20) rotate(-45)" font-size="9.5" text-anchor="end" stroke="#000" stroke-width="0.22" >Acetyl H4</text>
<text transform="translate(159.75 447.20) rotate(-45)" font-size="9.5" text-anchor="end" stroke="#000" stroke-width="0.22" >H3K4me2</text>
<text transform="translate(191.40 447.20) rotate(-45)" font-size="9.5" text-anchor="end" stroke="#000" stroke-width="0.22" >H3K4me3</text>
<text transform="translate(223.05 447.20) rotate(-45)" font-size="9.5" text-anchor="end" stroke="#000" stroke-width="0.22" >H3K27me3</text>
</g>
<g id="pg">
<text x="253.20" y="241.80" font-size="13" font-weight="700" >IP</text>
<text x="247.70" y="260.30" font-size="11.5" font-weight="700" >PCR</text>
<text x="279.00" y="239.80" font-size="10.5" font-weight="700" textLength="42.4" lengthAdjust="spacingAndGlyphs" >negative</text>
<text x="328.10" y="239.80" font-size="10.5" font-weight="700" textLength="44.6" lengthAdjust="spacingAndGlyphs" >AcetylH3</text>
<text x="392.80" y="239.50" font-size="10.5" font-weight="700" textLength="25.2" lengthAdjust="spacingAndGlyphs" >Input</text>
<line x1="268.50" y1="246.00" x2="309.70" y2="246.00" stroke="#777" stroke-width="1.5" />
<line x1="318.10" y1="246.00" x2="372.20" y2="246.00" stroke="#777" stroke-width="1.5" />
<line x1="376.50" y1="246.00" x2="426.90" y2="246.00" stroke="#777" stroke-width="1.5" />
<text transform="translate(334.80 263.20) rotate(-42)" font-size="9.6" text-anchor="end" stroke="#000" stroke-width="0.22" >Con</text>
<text transform="translate(374.20 253.80) rotate(-42)" font-size="9.6" text-anchor="end" stroke="#000" stroke-width="0.22" >MBD6+</text>
<text transform="translate(396.20 263.60) rotate(-42)" font-size="9.6" text-anchor="end" stroke="#000" stroke-width="0.22" >Con</text>
<text transform="translate(434.00 253.80) rotate(-42)" font-size="9.6" text-anchor="end" stroke="#000" stroke-width="0.22" >MBD6+</text>
<rect x="264.60" y="277.90" width="165.70" height="25.20" fill="#000"/>
<rect x="310.40" y="284.00" width="18.30" height="8.40" rx="3.00" fill="url(#gb2)" filter="url(#b0)" opacity="1"/>
<rect x="340.60" y="283.20" width="18.90" height="9.80" rx="3.00" fill="url(#gb)" filter="url(#b0)" opacity="1"/>
<rect x="371.10" y="282.60" width="18.90" height="9.70" rx="3.00" fill="url(#gb)" filter="url(#b0)" opacity="1"/>
<rect x="401.80" y="281.30" width="18.70" height="10.30" rx="3.00" fill="url(#gb)" filter="url(#b0)" opacity="1"/>
<text x="431.80" y="295.20" font-size="10.5" font-style="italic" stroke="#000" stroke-width="0.22" >Oct 4</text>
<rect x="264.30" y="306.10" width="165.90" height="25.70" fill="#000"/>
<rect x="377.80" y="309.60" width="21.20" height="10.00" rx="3.00" fill="url(#gb)" filter="url(#b0)" opacity="1"/>
<rect x="405.50" y="310.00" width="19.70" height="9.30" rx="3.00" fill="url(#gb)" filter="url(#b0)" opacity="1"/>
<text x="432.80" y="322.40" font-size="10.5" font-style="italic" stroke="#000" stroke-width="0.22" >MBD 6</text>
<text x="326.10" y="345.20" font-size="10.5" font-weight="700" textLength="44.5" lengthAdjust="spacingAndGlyphs" >AcetylH4</text>
<rect x="264.30" y="350.10" width="165.60" height="26.30" fill="#000"/>
<rect x="317.30" y="362.40" width="18.70" height="6.70" rx="3.00" fill="url(#gb2)" filter="url(#b0)" opacity="1"/>
<rect x="345.90" y="362.40" width="19.60" height="7.90" rx="3.00" fill="url(#gb)" filter="url(#b0)" opacity="1"/>
<rect x="375.60" y="360.00" width="19.40" height="8.60" rx="3.00" fill="url(#gb)" filter="url(#b0)" opacity="1"/>
<rect x="404.70" y="358.90" width="19.10" height="9.10" rx="3.00" fill="url(#gb)" filter="url(#b0)" opacity="1"/>
<text x="431.40" y="367.90" font-size="10.5" font-style="italic" stroke="#000" stroke-width="0.22" >Oct 4</text>
<line x1="263.50" y1="376.90" x2="430.60" y2="376.90" stroke="#8a8a8a" stroke-width="0.9" />
<rect x="263.50" y="377.40" width="167.10" height="26.20" fill="#101010"/>
<rect x="380.20" y="388.30" width="19.60" height="5.30" rx="2.65" fill="#d0d0d0" filter="url(#b1)" opacity="1"/>
<rect x="408.20" y="387.70" width="19.70" height="5.60" rx="2.80" fill="#d0d0d0" filter="url(#b1)" opacity="1"/>
<text x="438.10" y="387.40" font-size="10.5" font-style="italic" stroke="#000" stroke-width="0.22" >MBD 6</text>
<text x="326.80" y="417.70" font-size="10.5" font-weight="700" textLength="47.5" lengthAdjust="spacingAndGlyphs" >H3K4me2</text>
<rect x="264.80" y="421.00" width="165.10" height="26.00" fill="#000"/>
<rect x="324.60" y="432.30" width="17.00" height="5.60" rx="2.80" fill="#fff" filter="url(#b0)" opacity="1"/>
<rect x="352.80" y="431.50" width="16.50" height="5.80" rx="2.90" fill="#fff" filter="url(#b0)" opacity="1"/>
<rect x="380.00" y="430.70" width="17.50" height="7.20" rx="3.00" fill="#fff" filter="url(#b0)" opacity="1"/>
<rect x="407.20" y="430.70" width="17.20" height="6.60" rx="3.00" fill="#fff" filter="url(#b0)" opacity="1"/>
<text x="430.90" y="440.50" font-size="10.5" font-style="italic" stroke="#000" stroke-width="0.22" >Oct 4</text>
<line x1="264.80" y1="447.50" x2="429.90" y2="447.50" stroke="#8a8a8a" stroke-width="0.9" />
<rect x="264.80" y="448.00" width="165.10" height="26.80" fill="#000"/>
<rect x="323.40" y="461.70" width="18.00" height="4.20" rx="2.10" fill="#d8d8d8" filter="url(#b1)" opacity="1"/>
<rect x="351.00" y="461.70" width="18.10" height="4.20" rx="2.10" fill="#d8d8d8" filter="url(#b1)" opacity="1"/>
<rect x="378.80" y="460.70" width="19.40" height="5.30" rx="2.65" fill="#e4e4e4" filter="url(#b1)" opacity="1"/>
<rect x="406.50" y="460.70" width="18.50" height="5.30" rx="2.65" fill="#e4e4e4" filter="url(#b1)" opacity="1"/>
<text x="432.80" y="464.70" font-size="10.5" font-style="italic" stroke="#000" stroke-width="0.22" >MBD 6</text>
<text x="326.80" y="488.70" font-size="10.5" font-weight="700" textLength="47.8" lengthAdjust="spacingAndGlyphs" >H3K4me3</text>
<rect x="264.80" y="492.90" width="165.10" height="26.70" fill="#000"/>
<rect x="321.20" y="500.20" width="17.50" height="9.30" rx="3.00" fill="url(#gb2)" filter="url(#b0)" opacity="1"/>
<rect x="347.80" y="499.20" width="18.10" height="10.90" rx="3.00" fill="url(#gb)" filter="url(#b0)" opacity="1"/>
<rect x="375.30" y="498.80" width="18.40" height="11.00" rx="3.00" fill="url(#gb)" filter="url(#b0)" opacity="1"/>
<rect x="377.00" y="508.00" width="15.00" height="6.00" rx="3.00" fill="#555" filter="url(#b2)" opacity="0.7"/>
<rect x="401.80" y="498.20" width="18.70" height="11.30" rx="3.00" fill="url(#gb)" filter="url(#b0)" opacity="1"/>
<rect x="403.50" y="508.00" width="15.50" height="5.50" rx="2.75" fill="#444" filter="url(#b2)" opacity="0.6"/>
<text x="432.30" y="511.10" font-size="10.5" font-style="italic" stroke="#000" stroke-width="0.22" >Oct 4</text>
<line x1="264.80" y1="520.30" x2="429.90" y2="520.30" stroke="#e8e8e8" stroke-width="0.9" />
<rect x="264.80" y="521.00" width="165.10" height="25.90" fill="#000"/>
<rect x="377.20" y="532.20" width="18.80" height="3.90" rx="1.95" fill="#c8c8c8" filter="url(#b1)" opacity="1"/>
<rect x="404.40" y="531.50" width="19.30" height="4.10" rx="2.05" fill="#c8c8c8" filter="url(#b1)" opacity="1"/>
<text x="436.50" y="529.50" font-size="10.5" font-style="italic" stroke="#000" stroke-width="0.22" >MBD 6</text>
<line x1="264.80" y1="547.40" x2="429.90" y2="547.40" stroke="#999" stroke-width="0.9" />
</g>
<g id="pe">
<text x="478.30" y="286.20" font-size="15" font-weight="700" >e</text>
<text x="628.20" y="286.50" font-size="19" fill="#383838" textLength="49.2" lengthAdjust="spacingAndGlyphs" stroke="#fff" stroke-width="0.5">OCT4</text>
<line x1="493.40" y1="314.70" x2="747.60" y2="314.70" stroke="#333" stroke-width="0.9" />
<rect x="748" y="310.6" width="49.6" height="9.8" fill="#000" stroke="#000" stroke-width="1"/>
<rect x="748.6" y="311.2" width="8.6" height="8.6" fill="#fff"/>
<path d="M747.9 310.5 V299.8 H764.4 M761.6 297.2 L764.6 299.8 L761.6 302.4" fill="none" stroke="#000" stroke-width="0.9"/>
<text x="745.00" y="295.00" font-size="5.8" font-weight="700" >+1</text>
<text x="754.10" y="308.40" font-size="5.8" font-weight="700" textLength="27.4" lengthAdjust="spacingAndGlyphs" >ATG (+57)</text>
<text x="530.40" y="325.80" font-size="5.9" font-weight="700" textLength="15.0" lengthAdjust="spacingAndGlyphs" >-2417</text>
<text x="557.20" y="325.80" font-size="5.9" font-weight="700" textLength="15.0" lengthAdjust="spacingAndGlyphs" >-2136</text>
<text x="593.00" y="325.80" font-size="5.9" font-weight="700" textLength="15.0" lengthAdjust="spacingAndGlyphs" >-2126</text>
<text x="643.70" y="325.80" font-size="5.9" font-weight="700" textLength="15.0" lengthAdjust="spacingAndGlyphs" >-1721</text>
<text x="685.70" y="325.80" font-size="5.9" font-weight="700" textLength="15.0" lengthAdjust="spacingAndGlyphs" >-1574</text>
<text x="634.50" y="344.40" font-size="5.9" font-weight="700" textLength="15.0" lengthAdjust="spacingAndGlyphs" >-1755</text>
<line x1="525.50" y1="332.90" x2="572.00" y2="332.90" stroke="#000" stroke-width="1.2" />
<circle cx="525.50" cy="332.90" r="1.1" fill="#000"/>
<circle cx="572.00" cy="332.90" r="1.1" fill="#000"/>
<line x1="597.20" y1="332.90" x2="652.00" y2="332.90" stroke="#000" stroke-width="1.2" />
<circle cx="597.20" cy="332.90" r="1.1" fill="#000"/>
<circle cx="652.00" cy="332.90" r="1.1" fill="#000"/>
<line x1="642.20" y1="335.60" x2="692.80" y2="335.60" stroke="#000" stroke-width="1.2" />
<circle cx="642.20" cy="335.60" r="1.1" fill="#000"/>
<circle cx="692.80" cy="335.60" r="1.1" fill="#000"/>
<line x1="525.50" y1="333.50" x2="536.40" y2="355.00" stroke="#222" stroke-width="0.8" stroke-dasharray="1 1.6"/>
<line x1="572.00" y1="333.50" x2="562.30" y2="355.00" stroke="#222" stroke-width="0.8" stroke-dasharray="1 1.6"/>
<line x1="597.20" y1="333.50" x2="602.30" y2="354.50" stroke="#222" stroke-width="0.8" stroke-dasharray="1 1.6"/>
<line x1="636.00" y1="347.50" x2="628.40" y2="355.00" stroke="#222" stroke-width="0.8" stroke-dasharray="1 1.6"/>
<line x1="653.30" y1="347.00" x2="665.40" y2="356.80" stroke="#222" stroke-width="0.8" stroke-dasharray="1 1.6"/>
<line x1="692.60" y1="336.50" x2="690.40" y2="356.50" stroke="#222" stroke-width="0.8" stroke-dasharray="1 1.6"/>
<circle cx="540.70" cy="357.1" r="2.4" fill="#fff" stroke="#666" stroke-width="0.7"/>
<circle cx="546.20" cy="357.1" r="2.4" fill="#fff" stroke="#666" stroke-width="0.7"/>
<circle cx="551.70" cy="357.1" r="2.4" fill="#fff" stroke="#666" stroke-width="0.7"/>
<circle cx="557.20" cy="357.1" r="2.4" fill="#fff" stroke="#666" stroke-width="0.7"/>
<circle cx="606.80" cy="357.1" r="2.4" fill="#fff" stroke="#666" stroke-width="0.7"/>
<circle cx="612.30" cy="357.1" r="2.4" fill="#fff" stroke="#666" stroke-width="0.7"/>
<circle cx="617.80" cy="357.1" r="2.4" fill="#fff" stroke="#666" stroke-width="0.7"/>
<circle cx="623.30" cy="357.1" r="2.4" fill="#fff" stroke="#666" stroke-width="0.7"/>
<circle cx="669.20" cy="357.1" r="2.4" fill="#fff" stroke="#666" stroke-width="0.7"/>
<circle cx="674.70" cy="357.1" r="2.4" fill="#fff" stroke="#666" stroke-width="0.7"/>
<circle cx="680.20" cy="357.1" r="2.4" fill="#fff" stroke="#666" stroke-width="0.7"/>
<circle cx="685.70" cy="357.1" r="2.4" fill="#fff" stroke="#666" stroke-width="0.7"/>
<circle cx="551.70" cy="374.15" r="2.4" fill="#fff" stroke="#333" stroke-width="0.7"/>
<circle cx="557.20" cy="374.15" r="2.4" fill="#fff" stroke="#333" stroke-width="0.7"/>
<circle cx="551.70" cy="379.81" r="2.4" fill="#fff" stroke="#333" stroke-width="0.7"/>
<circle cx="557.20" cy="379.81" r="2.4" fill="#fff" stroke="#333" stroke-width="0.7"/>
<circle cx="551.70" cy="385.46" r="2.4" fill="#fff" stroke="#333" stroke-width="0.7"/>
<circle cx="557.20" cy="385.46" r="2.4" fill="#fff" stroke="#333" stroke-width="0.7"/>
<circle cx="557.20" cy="391.12" r="2.4" fill="#fff" stroke="#333" stroke-width="0.7"/>
<circle cx="551.70" cy="396.77" r="2.4" fill="#fff" stroke="#333" stroke-width="0.7"/>
<circle cx="557.20" cy="396.77" r="2.4" fill="#fff" stroke="#333" stroke-width="0.7"/>
<circle cx="557.20" cy="408.08" r="2.4" fill="#fff" stroke="#333" stroke-width="0.7"/>
<circle cx="551.70" cy="413.74" r="2.4" fill="#fff" stroke="#333" stroke-width="0.7"/>
<circle cx="557.20" cy="413.74" r="2.4" fill="#fff" stroke="#333" stroke-width="0.7"/>
<circle cx="540.70" cy="368.50" r="2.76" fill="#000"/>
<circle cx="546.20" cy="368.50" r="2.76" fill="#000"/>
<circle cx="551.70" cy="368.50" r="2.76" fill="#000"/>
<circle cx="557.20" cy="368.50" r="2.76" fill="#000"/>
<circle cx="540.70" cy="374.15" r="2.76" fill="#000"/>
<circle cx="546.20" cy="374.15" r="2.76" fill="#000"/>
<circle cx="540.70" cy="379.81" r="2.76" fill="#000"/>
<circle cx="546.20" cy="379.81" r="2.76" fill="#000"/>
<circle cx="540.70" cy="385.46" r="2.76" fill="#000"/>
<circle cx="546.20" cy="385.46" r="2.76" fill="#000"/>
<circle cx="540.70" cy="391.12" r="2.76" fill="#000"/>
<circle cx="546.20" cy="391.12" r="2.76" fill="#000"/>
<circle cx="551.70" cy="391.12" r="2.76" fill="#000"/>
<circle cx="540.70" cy="396.77" r="2.76" fill="#000"/>
<circle cx="546.20" cy="396.77" r="2.76" fill="#000"/>
<circle cx="540.70" cy="402.43" r="2.76" fill="#000"/>
<circle cx="546.20" cy="402.43" r="2.76" fill="#000"/>
<circle cx="551.70" cy="402.43" r="2.76" fill="#000"/>
<circle cx="557.20" cy="402.43" r="2.76" fill="#000"/>
<circle cx="540.70" cy="408.08" r="2.76" fill="#000"/>
<circle cx="546.20" cy="408.08" r="2.76" fill="#000"/>
<circle cx="551.70" cy="408.08" r="2.76" fill="#000"/>
<circle cx="540.70" cy="413.74" r="2.76" fill="#000"/>
<circle cx="546.20" cy="413.74" r="2.76" fill="#000"/>
<circle cx="540.70" cy="419.39" r="2.76" fill="#000"/>
<circle cx="546.20" cy="419.39" r="2.76" fill="#000"/>
<circle cx="551.70" cy="419.39" r="2.76" fill="#000"/>
<circle cx="557.20" cy="419.39" r="2.76" fill="#000"/>
<circle cx="617.80" cy="374.15" r="2.4" fill="#fff" stroke="#333" stroke-width="0.7"/>
<circle cx="623.30" cy="374.15" r="2.4" fill="#fff" stroke="#333" stroke-width="0.7"/>
<circle cx="617.80" cy="385.46" r="2.4" fill="#fff" stroke="#333" stroke-width="0.7"/>
<circle cx="606.80" cy="391.12" r="2.4" fill="#fff" stroke="#333" stroke-width="0.7"/>
<circle cx="606.80" cy="396.77" r="2.4" fill="#fff" stroke="#333" stroke-width="0.7"/>
<circle cx="617.80" cy="402.43" r="2.4" fill="#fff" stroke="#333" stroke-width="0.7"/>
<circle cx="623.30" cy="402.43" r="2.4" fill="#fff" stroke="#333" stroke-width="0.7"/>
<circle cx="617.80" cy="408.08" r="2.4" fill="#fff" stroke="#333" stroke-width="0.7"/>
<circle cx="606.80" cy="413.74" r="2.4" fill="#fff" stroke="#333" stroke-width="0.7"/>
<circle cx="617.80" cy="413.74" r="2.4" fill="#fff" stroke="#333" stroke-width="0.7"/>
<circle cx="617.80" cy="419.39" r="2.4" fill="#fff" stroke="#333" stroke-width="0.7"/>
<circle cx="606.80" cy="368.50" r="2.76" fill="#000"/>
<circle cx="612.30" cy="368.50" r="2.76" fill="#000"/>
<circle cx="617.80" cy="368.50" r="2.76" fill="#000"/>
<circle cx="623.30" cy="368.50" r="2.76" fill="#000"/>
<circle cx="606.80" cy="374.15" r="2.76" fill="#000"/>
<circle cx="612.30" cy="374.15" r="2.76" fill="#000"/>
<circle cx="606.80" cy="379.81" r="2.76" fill="#000"/>
<circle cx="612.30" cy="379.81" r="2.76" fill="#000"/>
<circle cx="617.80" cy="379.81" r="2.76" fill="#000"/>
<circle cx="623.30" cy="379.81" r="2.76" fill="#000"/>
<circle cx="606.80" cy="385.46" r="2.76" fill="#000"/>
<circle cx="612.30" cy="385.46" r="2.76" fill="#000"/>
<circle cx="623.30" cy="385.46" r="2.76" fill="#000"/>
<circle cx="612.30" cy="391.12" r="2.76" fill="#000"/>
<circle cx="617.80" cy="391.12" r="2.76" fill="#000"/>
<circle cx="623.30" cy="391.12" r="2.76" fill="#000"/>
<circle cx="612.30" cy="396.77" r="2.76" fill="#000"/>
<circle cx="617.80" cy="396.77" r="2.76" fill="#000"/>
<circle cx="623.30" cy="396.77" r="2.76" fill="#000"/>
<circle cx="606.80" cy="402.43" r="2.76" fill="#000"/>
<circle cx="612.30" cy="402.43" r="2.76" fill="#000"/>
<circle cx="606.80" cy="408.08" r="2.76" fill="#000"/>
<circle cx="612.30" cy="408.08" r="2.76" fill="#000"/>
<circle cx="623.30" cy="408.08" r="2.76" fill="#000"/>
<circle cx="612.30" cy="413.74" r="2.76" fill="#000"/>
<circle cx="623.30" cy="413.74" r="2.76" fill="#000"/>
<circle cx="606.80" cy="419.39" r="2.76" fill="#000"/>
<circle cx="612.30" cy="419.39" r="2.76" fill="#000"/>
<circle cx="623.30" cy="419.39" r="2.76" fill="#000"/>
<circle cx="674.70" cy="368.50" r="2.4" fill="#fff" stroke="#333" stroke-width="0.7"/>
<circle cx="680.20" cy="379.81" r="2.4" fill="#fff" stroke="#333" stroke-width="0.7"/>
<circle cx="680.20" cy="385.46" r="2.4" fill="#fff" stroke="#333" stroke-width="0.7"/>
<circle cx="674.70" cy="391.12" r="2.4" fill="#fff" stroke="#333" stroke-width="0.7"/>
<circle cx="680.20" cy="391.12" r="2.4" fill="#fff" stroke="#333" stroke-width="0.7"/>
<circle cx="674.70" cy="396.77" r="2.4" fill="#fff" stroke="#333" stroke-width="0.7"/>
<circle cx="680.20" cy="396.77" r="2.4" fill="#fff" stroke="#333" stroke-width="0.7"/>
<circle cx="674.70" cy="402.43" r="2.4" fill="#fff" stroke="#333" stroke-width="0.7"/>
<circle cx="680.20" cy="402.43" r="2.4" fill="#fff" stroke="#333" stroke-width="0.7"/>
<circle cx="669.20" cy="368.50" r="2.76" fill="#000"/>
<circle cx="680.20" cy="368.50" r="2.76" fill="#000"/>
<circle cx="685.70" cy="368.50" r="2.76" fill="#000"/>
<circle cx="669.20" cy="374.15" r="2.76" fill="#000"/>
<circle cx="674.70" cy="374.15" r="2.76" fill="#000"/>
<circle cx="680.20" cy="374.15" r="2.76" fill="#000"/>
<circle cx="685.70" cy="374.15" r="2.76" fill="#000"/>
<circle cx="669.20" cy="379.81" r="2.76" fill="#000"/>
<circle cx="674.70" cy="379.81" r="2.76" fill="#000"/>
<circle cx="685.70" cy="379.81" r="2.76" fill="#000"/>
<circle cx="669.20" cy="385.46" r="2.76" fill="#000"/>
<circle cx="674.70" cy="385.46" r="2.76" fill="#000"/>
<circle cx="685.70" cy="385.46" r="2.76" fill="#000"/>
<circle cx="669.20" cy="391.12" r="2.76" fill="#000"/>
<circle cx="685.70" cy="391.12" r="2.76" fill="#000"/>
<circle cx="669.20" cy="396.77" r="2.76" fill="#000"/>
<circle cx="685.70" cy="396.77" r="2.76" fill="#000"/>
<circle cx="669.20" cy="402.43" r="2.76" fill="#000"/>
<circle cx="685.70" cy="402.43" r="2.76" fill="#000"/>
<circle cx="669.20" cy="408.08" r="2.76" fill="#000"/>
<circle cx="674.70" cy="408.08" r="2.76" fill="#000"/>
<circle cx="680.20" cy="408.08" r="2.76" fill="#000"/>
<circle cx="685.70" cy="408.08" r="2.76" fill="#000"/>
<circle cx="669.20" cy="413.74" r="2.76" fill="#000"/>
<circle cx="674.70" cy="413.74" r="2.76" fill="#000"/>
<circle cx="680.20" cy="413.74" r="2.76" fill="#000"/>
<circle cx="685.70" cy="413.74" r="2.76" fill="#000"/>
<circle cx="669.20" cy="419.39" r="2.76" fill="#000"/>
<circle cx="674.70" cy="419.39" r="2.76" fill="#000"/>
<circle cx="680.20" cy="419.39" r="2.76" fill="#000"/>
<circle cx="685.70" cy="419.39" r="2.76" fill="#000"/>
<circle cx="551.70" cy="453.60" r="2.4" fill="#fff" stroke="#333" stroke-width="0.7"/>
<circle cx="557.20" cy="453.60" r="2.4" fill="#fff" stroke="#333" stroke-width="0.7"/>
<circle cx="551.70" cy="459.25" r="2.4" fill="#fff" stroke="#333" stroke-width="0.7"/>
<circle cx="557.20" cy="459.25" r="2.4" fill="#fff" stroke="#333" stroke-width="0.7"/>
<circle cx="551.70" cy="464.91" r="2.4" fill="#fff" stroke="#333" stroke-width="0.7"/>
<circle cx="557.20" cy="464.91" r="2.4" fill="#fff" stroke="#333" stroke-width="0.7"/>
<circle cx="551.70" cy="470.56" r="2.4" fill="#fff" stroke="#333" stroke-width="0.7"/>
<circle cx="557.20" cy="470.56" r="2.4" fill="#fff" stroke="#333" stroke-width="0.7"/>
<circle cx="551.70" cy="476.22" r="2.4" fill="#fff" stroke="#333" stroke-width="0.7"/>
<circle cx="557.20" cy="476.22" r="2.4" fill="#fff" stroke="#333" stroke-width="0.7"/>
<circle cx="551.70" cy="481.88" r="2.4" fill="#fff" stroke="#333" stroke-width="0.7"/>
<circle cx="557.20" cy="481.88" r="2.4" fill="#fff" stroke="#333" stroke-width="0.7"/>
<circle cx="551.70" cy="487.53" r="2.4" fill="#fff" stroke="#333" stroke-width="0.7"/>
<circle cx="557.20" cy="487.53" r="2.4" fill="#fff" stroke="#333" stroke-width="0.7"/>
<circle cx="551.70" cy="493.19" r="2.4" fill="#fff" stroke="#333" stroke-width="0.7"/>
<circle cx="557.20" cy="493.19" r="2.4" fill="#fff" stroke="#333" stroke-width="0.7"/>
<circle cx="551.70" cy="498.84" r="2.4" fill="#fff" stroke="#333" stroke-width="0.7"/>
<circle cx="557.20" cy="498.84" r="2.4" fill="#fff" stroke="#333" stroke-width="0.7"/>
<circle cx="551.70" cy="504.50" r="2.4" fill="#fff" stroke="#333" stroke-width="0.7"/>
<circle cx="557.20" cy="504.50" r="2.4" fill="#fff" stroke="#333" stroke-width="0.7"/>
<circle cx="540.70" cy="453.60" r="2.76" fill="#000"/>
<circle cx="546.20" cy="453.60" r="2.76" fill="#000"/>
<circle cx="540.70" cy="459.25" r="2.76" fill="#000"/>
<circle cx="546.20" cy="459.25" r="2.76" fill="#000"/>
<circle cx="540.70" cy="464.91" r="2.76" fill="#000"/>
<circle cx="546.20" cy="464.91" r="2.76" fill="#000"/>
<circle cx="540.70" cy="470.56" r="2.76" fill="#000"/>
<circle cx="546.20" cy="470.56" r="2.76" fill="#000"/>
<circle cx="540.70" cy="476.22" r="2.76" fill="#000"/>
<circle cx="546.20" cy="476.22" r="2.76" fill="#000"/>
<circle cx="540.70" cy="481.88" r="2.76" fill="#000"/>
<circle cx="546.20" cy="481.88" r="2.76" fill="#000"/>
<circle cx="540.70" cy="487.53" r="2.76" fill="#000"/>
<circle cx="546.20" cy="487.53" r="2.76" fill="#000"/>
<circle cx="540.70" cy="493.19" r="2.76" fill="#000"/>
<circle cx="546.20" cy="493.19" r="2.76" fill="#000"/>
<circle cx="540.70" cy="498.84" r="2.76" fill="#000"/>
<circle cx="546.20" cy="498.84" r="2.76" fill="#000"/>
<circle cx="540.70" cy="504.50" r="2.76" fill="#000"/>
<circle cx="546.20" cy="504.50" r="2.76" fill="#000"/>
<circle cx="617.80" cy="453.60" r="2.4" fill="#fff" stroke="#333" stroke-width="0.7"/>
<circle cx="617.80" cy="459.25" r="2.4" fill="#fff" stroke="#333" stroke-width="0.7"/>
<circle cx="617.80" cy="464.91" r="2.4" fill="#fff" stroke="#333" stroke-width="0.7"/>
<circle cx="617.80" cy="470.56" r="2.4" fill="#fff" stroke="#333" stroke-width="0.7"/>
<circle cx="606.80" cy="476.22" r="2.4" fill="#fff" stroke="#333" stroke-width="0.7"/>
<circle cx="617.80" cy="476.22" r="2.4" fill="#fff" stroke="#333" stroke-width="0.7"/>
<circle cx="617.80" cy="481.88" r="2.4" fill="#fff" stroke="#333" stroke-width="0.7"/>
<circle cx="623.30" cy="481.88" r="2.4" fill="#fff" stroke="#333" stroke-width="0.7"/>
<circle cx="606.80" cy="487.53" r="2.4" fill="#fff" stroke="#333" stroke-width="0.7"/>
<circle cx="617.80" cy="487.53" r="2.4" fill="#fff" stroke="#333" stroke-width="0.7"/>
<circle cx="623.30" cy="487.53" r="2.4" fill="#fff" stroke="#333" stroke-width="0.7"/>
<circle cx="606.80" cy="493.19" r="2.4" fill="#fff" stroke="#333" stroke-width="0.7"/>
<circle cx="612.30" cy="493.19" r="2.4" fill="#fff" stroke="#333" stroke-width="0.7"/>
<circle cx="617.80" cy="493.19" r="2.4" fill="#fff" stroke="#333" stroke-width="0.7"/>
<circle cx="623.30" cy="493.19" r="2.4" fill="#fff" stroke="#333" stroke-width="0.7"/>
<circle cx="606.80" cy="498.84" r="2.4" fill="#fff" stroke="#333" stroke-width="0.7"/>
<circle cx="617.80" cy="498.84" r="2.4" fill="#fff" stroke="#333" stroke-width="0.7"/>
<circle cx="606.80" cy="504.50" r="2.4" fill="#fff" stroke="#333" stroke-width="0.7"/>
<circle cx="617.80" cy="504.50" r="2.4" fill="#fff" stroke="#333" stroke-width="0.7"/>
<circle cx="623.30" cy="504.50" r="2.4" fill="#fff" stroke="#333" stroke-width="0.7"/>
<circle cx="606.80" cy="453.60" r="2.76" fill="#000"/>
<circle cx="612.30" cy="453.60" r="2.76" fill="#000"/>
<circle cx="623.30" cy="453.60" r="2.76" fill="#000"/>
<circle cx="606.80" cy="459.25" r="2.76" fill="#000"/>
<circle cx="612.30" cy="459.25" r="2.76" fill="#000"/>
<circle cx="623.30" cy="459.25" r="2.76" fill="#000"/>
<circle cx="606.80" cy="464.91" r="2.76" fill="#000"/>
<circle cx="612.30" cy="464.91" r="2.76" fill="#000"/>
<circle cx="623.30" cy="464.91" r="2.76" fill="#000"/>
<circle cx="606.80" cy="470.56" r="2.76" fill="#000"/>
<circle cx="612.30" cy="470.56" r="2.76" fill="#000"/>
<circle cx="623.30" cy="470.56" r="2.76" fill="#000"/>
<circle cx="612.30" cy="476.22" r="2.76" fill="#000"/>
<circle cx="623.30" cy="476.22" r="2.76" fill="#000"/>
<circle cx="606.80" cy="481.88" r="2.76" fill="#000"/>
<circle cx="612.30" cy="481.88" r="2.76" fill="#000"/>
<circle cx="612.30" cy="487.53" r="2.76" fill="#000"/>
<circle cx="612.30" cy="498.84" r="2.76" fill="#000"/>
<circle cx="623.30" cy="498.84" r="2.76" fill="#000"/>
<circle cx="612.30" cy="504.50" r="2.76" fill="#000"/>
<circle cx="669.20" cy="453.60" r="2.4" fill="#fff" stroke="#333" stroke-width="0.7"/>
<circle cx="680.20" cy="459.25" r="2.4" fill="#fff" stroke="#333" stroke-width="0.7"/>
<circle cx="680.20" cy="464.91" r="2.4" fill="#fff" stroke="#333" stroke-width="0.7"/>
<circle cx="674.70" cy="470.56" r="2.4" fill="#fff" stroke="#333" stroke-width="0.7"/>
<circle cx="680.20" cy="470.56" r="2.4" fill="#fff" stroke="#333" stroke-width="0.7"/>
<circle cx="674.70" cy="476.22" r="2.4" fill="#fff" stroke="#333" stroke-width="0.7"/>
<circle cx="680.20" cy="476.22" r="2.4" fill="#fff" stroke="#333" stroke-width="0.7"/>
<circle cx="669.20" cy="487.53" r="2.4" fill="#fff" stroke="#333" stroke-width="0.7"/>
<circle cx="674.70" cy="487.53" r="2.4" fill="#fff" stroke="#333" stroke-width="0.7"/>
<circle cx="680.20" cy="487.53" r="2.4" fill="#fff" stroke="#333" stroke-width="0.7"/>
<circle cx="685.70" cy="487.53" r="2.4" fill="#fff" stroke="#333" stroke-width="0.7"/>
<circle cx="674.70" cy="498.84" r="2.4" fill="#fff" stroke="#333" stroke-width="0.7"/>
<circle cx="680.20" cy="498.84" r="2.4" fill="#fff" stroke="#333" stroke-width="0.7"/>
<circle cx="669.20" cy="504.50" r="2.4" fill="#fff" stroke="#333" stroke-width="0.7"/>
<circle cx="674.70" cy="453.60" r="2.76" fill="#000"/>
<circle cx="680.20" cy="453.60" r="2.76" fill="#000"/>
<circle cx="685.70" cy="453.60" r="2.76" fill="#000"/>
<circle cx="669.20" cy="459.25" r="2.76" fill="#000"/>
<circle cx="674.70" cy="459.25" r="2.76" fill="#000"/>
<circle cx="685.70" cy="459.25" r="2.76" fill="#000"/>
<circle cx="669.20" cy="464.91" r="2.76" fill="#000"/>
<circle cx="674.70" cy="464.91" r="2.76" fill="#000"/>
<circle cx="685.70" cy="464.91" r="2.76" fill="#000"/>
<circle cx="669.20" cy="470.56" r="2.76" fill="#000"/>
<circle cx="685.70" cy="470.56" r="2.76" fill="#000"/>
<circle cx="669.20" cy="476.22" r="2.76" fill="#000"/>
<circle cx="685.70" cy="476.22" r="2.76" fill="#000"/>
<circle cx="669.20" cy="481.88" r="2.76" fill="#000"/>
<circle cx="674.70" cy="481.88" r="2.76" fill="#000"/>
<circle cx="680.20" cy="481.88" r="2.76" fill="#000"/>
<circle cx="685.70" cy="481.88" r="2.76" fill="#000"/>
<circle cx="669.20" cy="493.19" r="2.76" fill="#000"/>
<circle cx="674.70" cy="493.19" r="2.76" fill="#000"/>
<circle cx="680.20" cy="493.19" r="2.76" fill="#000"/>
<circle cx="685.70" cy="493.19" r="2.76" fill="#000"/>
<circle cx="669.20" cy="498.84" r="2.76" fill="#000"/>
<circle cx="685.70" cy="498.84" r="2.76" fill="#000"/>
<circle cx="674.70" cy="504.50" r="2.76" fill="#000"/>
<circle cx="680.20" cy="504.50" r="2.76" fill="#000"/>
<circle cx="685.70" cy="504.50" r="2.76" fill="#000"/>
<text x="493.00" y="392.90" font-size="8" font-weight="700" textLength="14.3" lengthAdjust="spacingAndGlyphs" >Ctrl</text>
<text x="493.00" y="481.30" font-size="8" font-weight="700" textLength="28" lengthAdjust="spacingAndGlyphs" >MBD6+</text>
<text x="549.00" y="434.70" font-size="6.3" text-anchor="middle" fill="#444" >70%</text>
<text x="615.00" y="434.70" font-size="6.3" text-anchor="middle" fill="#444" >72.5%</text>
<text x="677.40" y="434.70" font-size="6.3" text-anchor="middle" fill="#444" >77.5%</text>
<text x="548.90" y="522.50" font-size="6.3" text-anchor="middle" fill="#444" >50%</text>
<text x="614.50" y="522.50" font-size="6.3" text-anchor="middle" fill="#444" >50%</text>
<text x="676.70" y="522.50" font-size="6.3" text-anchor="middle" fill="#444" >65%</text>
</g>
</svg>
</body></html>
